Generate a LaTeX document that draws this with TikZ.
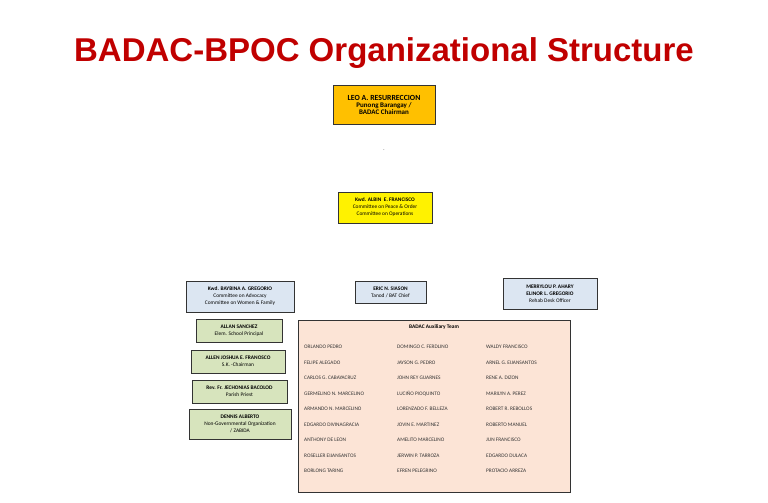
\documentclass[tikz,border=0pt]{standalone}
\usepackage{fontspec}
\setmainfont{Carlito}
\newfontfamily\titlefont{Liberation Sans}
\begin{document}
\begin{tikzpicture}[x=1pt,y=-1pt,
  box/.style={draw=black!80,line width=0.8pt,align=center,inner sep=0pt,font=\fontsize{5.4}{7}\selectfont},
  nm/.style={anchor=west,inner sep=0pt,font=\fontsize{5.3}{5.5}\selectfont,text=black!80}]
\useasboundingbox (0,0) rectangle (768,503);
\node[font=\titlefont\bfseries\fontsize{33}{34}\selectfont,text={rgb,255:red,192;green,0;blue,0}] (title) at (384,53) {BADAC-BPOC Organizational Structure};
\newcommand\bx[7]{\path[box,fill=#6] (#2,#3) rectangle (#4,#5); \node[box,draw=none] (#1) at ({(#2+#4)/2},{(#3+#5)/2}) {#7};}
\bx{leo}{333}{85}{435}{124}{{rgb,255:red,255;green,192;blue,0}}{\fontsize{7.8}{10}\selectfont\bfseries LEO A. RESURRECCION\\ \fontsize{7}{9.5}\selectfont\bfseries Punong Barangay /\\ \fontsize{7}{9.5}\selectfont\bfseries BADAC Chairman}
\node[inner sep=0pt,font=\tiny] (dot) at (384,150) {.};
\bx{albin}{338}{192}{432}{223}{yellow}{\bfseries Kwd. ALBIN\ \ E. FRANCISCO\\ Committee on Peace \& Order\\ Committee on Operations}
\bx{bay}{186}{281}{294}{312}{{rgb,255:red,220;green,230;blue,242}}{\bfseries Kwd. BAYBINA A. GREGORIO\\ Committee on Advocacy\\ Committee on Women \& Family}
\bx{eric}{355}{281}{426}{303}{{rgb,255:red,220;green,230;blue,242}}{\bfseries ERIC N. SIASON\\ Tanod / BAT Chief}
\bx{mer}{503}{278}{597}{309}{{rgb,255:red,220;green,230;blue,242}}{\bfseries MERRYLOU P. AHARY\\ \bfseries ELINOR L. GREGORIO\\ Rehab Desk Officer}
\bx{allan}{196}{319}{282}{342}{{rgb,255:red,215;green,228;blue,189}}{\bfseries ALLAN SANCHEZ\\ Elem. School Principal}
\bx{aj}{191}{350}{285}{373}{{rgb,255:red,215;green,228;blue,189}}{\bfseries ALLEN JOSHUA E. FRANOSCO\\ S.K. -Chairman}
\bx{rev}{192}{380}{287}{403}{{rgb,255:red,215;green,228;blue,189}}{\bfseries Rev. Fr. JECHONIAS BACOLOD\\ Parish Priest}
\bx{den}{189}{409}{291}{439}{{rgb,255:red,215;green,228;blue,189}}{\bfseries DENNIS ALBERTO\\ Non-Governmental Organization\\ / ZABIDA}
\path[box,fill={rgb,255:red,252;green,228;blue,214}] (298,320) rectangle (570,492);
\node[box,draw=none] (auxh) at (434,327) {\bfseries BADAC Auxiliary Team};
\foreach \a/\b/\c [count=\i from 0] in {
ORLANDO PEDRO/DOMINGO C. FERDLINO/WALDY FRANCISCO,
FELIPE ALEGADO/JAYSON G. PEDRO/ARNEL G. EIJANSANTOS,
CARLOS G. CABAYACRUZ/JOHN REY GUARNES/RENE A. DIZON,
GERMELINO N. MARCELINO/LUCIÑO PIOQUINTO/MARILYN A. PEREZ,
ARMANDO N. MARCELINO/LORENZADO F. BELLEZA/ROBERT R. REBOLLOS,
EDGARDO DIVINAGRACIA/JOVIN E. MARTINEZ/ROBERTO MANUEL,
ANTHONY DE LEON/AMELITO MARCELINO/JUN FRANCISCO,
ROSELLER EIJANSANTOS/JERWIN P. TARROZA/EDGARDO DULACA,
BORLONG TARING/EFREN PELEGRINO/PROTACIO ARREZA}{
  \node[nm] (a\i) at (304,{347+15.5*\i}) {\a};
  \node[nm] (b\i) at (397,{347+15.5*\i}) {\b};
  \node[nm] (c\i) at (486,{347+15.5*\i}) {\c};
}
\end{tikzpicture}
\end{document}
